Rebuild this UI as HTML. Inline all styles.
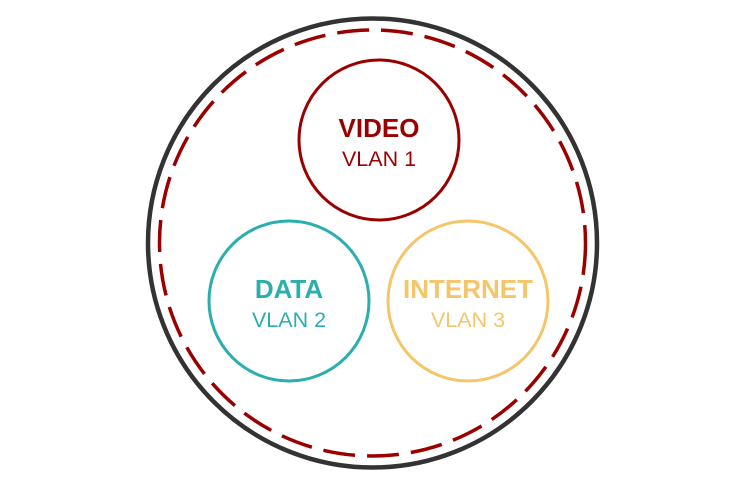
<!DOCTYPE html>
<html><head><style>html,body{margin:0;padding:0;background:#fff}</style></head>
<body>
<svg width="743" height="498" viewBox="0 0 743 498" xmlns="http://www.w3.org/2000/svg" font-family="Liberation Sans, Arial, sans-serif">
<circle cx="372.5" cy="243" r="224.5" fill="none" stroke="#333" stroke-width="4.5"/>
<circle cx="372.5" cy="243" r="213" fill="none" stroke="#9a0000" stroke-width="3.5" stroke-dasharray="32 12"/>
<circle cx="379" cy="140" r="80" fill="none" stroke="#9a0000" stroke-width="3"/>
<circle cx="289" cy="301" r="80" fill="none" stroke="#2aaeae" stroke-width="3"/>
<circle cx="468" cy="301" r="80" fill="none" stroke="#f5c56a" stroke-width="3"/>
<g text-anchor="middle">
<text x="379" y="137" font-size="26" font-weight="bold" fill="#9a0000">VIDEO</text>
<text x="379" y="166" font-size="21.5" fill="#9a0000">VLAN 1</text>
<text x="289" y="298" font-size="26" font-weight="bold" fill="#2aaeae">DATA</text>
<text x="289" y="327" font-size="21.5" fill="#2aaeae">VLAN 2</text>
<text x="468" y="298" font-size="26" font-weight="bold" fill="#f5c56a">INTERNET</text>
<text x="468" y="327" font-size="21.5" fill="#f5c56a">VLAN 3</text>
</g>
</svg>
</body></html>
